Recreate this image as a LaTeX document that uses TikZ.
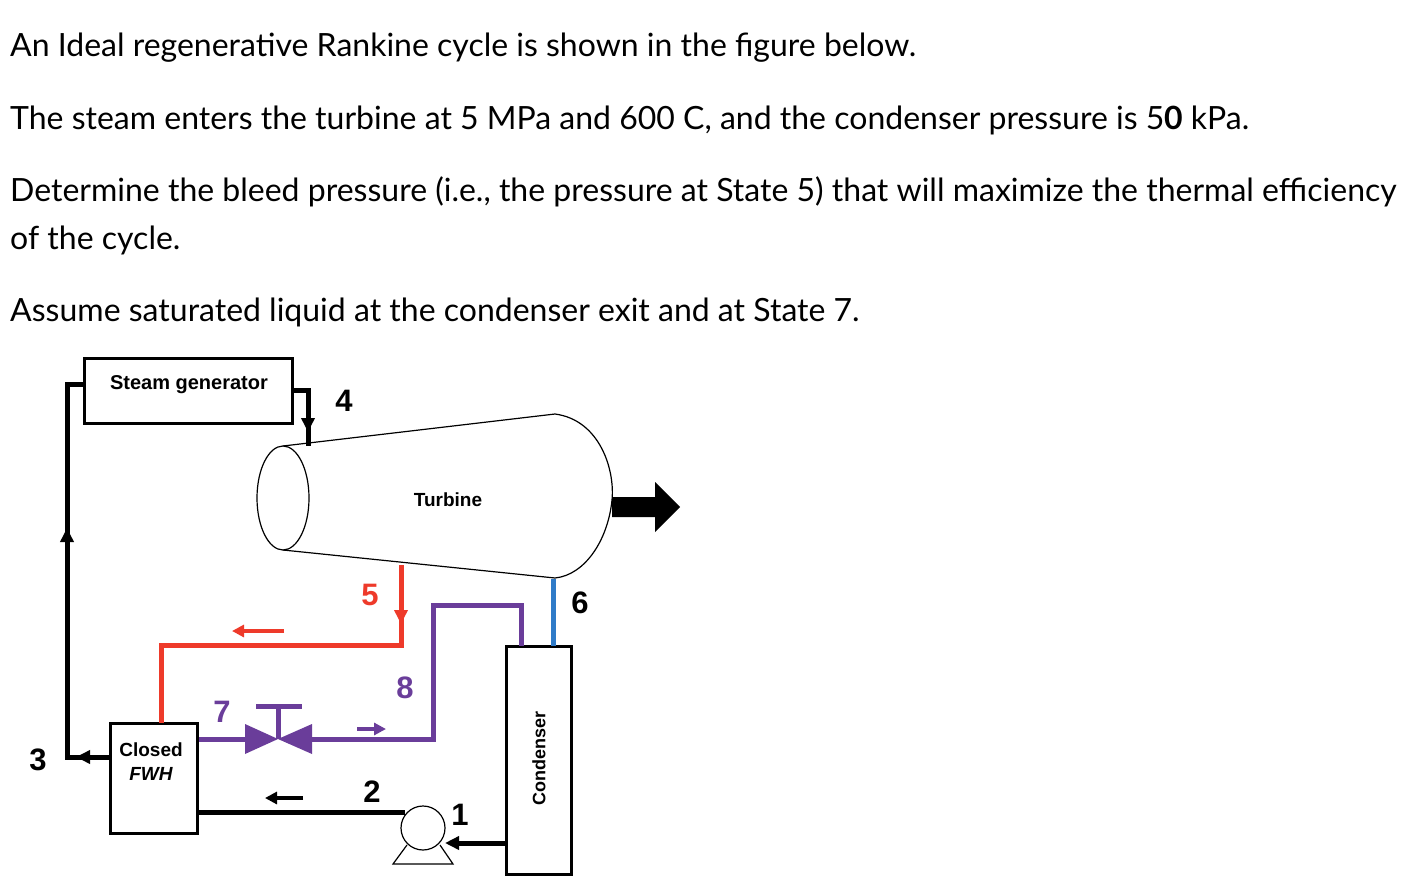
\documentclass[tikz,border=0pt]{standalone}
\usepackage{fontspec}
\setmainfont{Lato}
\newfontfamily\arial{Liberation Sans}
\usetikzlibrary{arrows.meta}
\definecolor{rd}{HTML}{EE3A2A}
\definecolor{pp}{HTML}{6A3D9A}
\definecolor{bl}{HTML}{2F7BC8}
\begin{document}
\begin{tikzpicture}[x=1pt,y=-1pt,
  para/.style={anchor=base west,inner sep=0,font=\fontsize{32}{32}\selectfont},
  lab/.style={font=\arial\bfseries\fontsize{31}{31}\selectfont,inner sep=0},
  box/.style={draw,line width=3pt,inner sep=0},
  pipe/.style={line width=5pt},
  tip/.style={-{Triangle[length=14pt,width=13pt]}},
  stip/.style={-{Triangle[length=12pt,width=12pt]}}]
\useasboundingbox (0,0) rectangle (1412,888);
\node[para] (t1) at (10,57) {An Ideal regenerative Rankine cycle is shown in the figure below.};
\node[para] (t2) at (10,129) {The steam enters the turbine at 5 MPa and 600 C, and the condenser pressure is 5{\bfseries 0} kPa.};
\node[para] (t3) at (10,201) {Determine the bleed pressure (i.e., the pressure at State 5) that will maximize the thermal efficiency};
\node[para] (t4) at (10,249) {of the cycle.};
\node[para] (t5) at (10,321) {Assume saturated liquid at the condenser exit and at State 7.};
% boxes
\node[box,minimum width=208pt,minimum height=65pt] (sg) at (188,390.5) {};
\node[font=\arial\bfseries\fontsize{20}{20}\selectfont] (sgt) at (189,385) {Steam generator};
\node[box,minimum width=87pt,minimum height=110pt] (fwh) at (153.5,778) {};
\node[font=\arial\bfseries\fontsize{19}{24}\selectfont,align=center] (fwht) at (151,762) {Closed\\\itshape FWH};
\node[box,minimum width=65pt,minimum height=228pt] (cond) at (538.5,760) {};
\node[font=\arial\bfseries\fontsize{18}{18}\selectfont,rotate=90] (condt) at (539,758) {Condenser};
% turbine
\draw[line width=1.2pt,fill=white] (283,446) -- (555,414) .. controls (600,420) and (615,470) .. (612,500) .. controls (608,540) and (585,575) .. (555,578) -- (283,550);
\draw[line width=1.2pt,fill=white] (283,498) ellipse (26 and 52);
\node[font=\arial\bfseries\fontsize{19}{19}\selectfont] (tt) at (448,500) {Turbine};
\coordinate (tin) at (308,446);
\coordinate (t5) at (401,565);
\coordinate (t6) at (553,579);
\fill (612,497) -- (655,497) -- (655,482) -- (680,507) -- (655,532) -- (655,517) -- (612,517) -- cycle;
% steam gen to turbine
\draw[pipe] (sg.east|-0,390) -| (tin);
\draw[pipe,tip] (308,400) -- (308,432);
% 3 line
\draw[pipe] (fwh.west|-0,757) -| (67,384) -- (sg.west|-0,384);
\draw[pipe,tip] (67,560) -- (67,528);
\draw[pipe,tip] (108,757) -- (76,757);
% red
\draw[rd,pipe] (t5) -- (401,645) -| (161,723);
\draw[rd,pipe,tip] (401,590) -- (401,624);
\draw[rd,line width=3.5pt,stip] (284,631) -- (232,631);
% purple
\draw[pp,pipe] (521,646) -- (521,605) -- (433,605) -- (433,739) -- (312,739);
\draw[pp,pipe] (245,739) -- (fwh.east|-0,739);
\fill[pp] (245,724) -- (278,739) -- (245,754) -- cycle;
\fill[pp] (312,724) -- (278,739) -- (312,754) -- cycle;
\draw[pp,line width=5pt] (278,739) -- (278,706) (256,706) -- (302,706);
\draw[pp,line width=3.5pt,stip] (357,729) -- (386,729);
% blue
\draw[bl,pipe] (t6) -- (553,646);
% bottom line + pump
\draw[pipe] (fwh.east|-0,812) -- (405,812);
\draw[line width=3.5pt,stip] (303,798) -- (265,798);
\draw[line width=1.2pt,fill=white] (407,845) -- (393,864) -- (453,864) -- (440,845);
\node[draw,circle,line width=1.2pt,fill=white,minimum size=44pt,inner sep=0] (pump) at (423,828) {};
\draw[pipe] (cond.west|-0,843) -- (460,843);
\draw[pipe,tip] (470,843) -- (445,843);
% labels
\node[lab] (l4) at (344,401) {4};
\node[lab] (l3) at (38,760) {3};
\node[lab,text=rd] (l5) at (370,595) {5};
\node[lab] (l6) at (580,603) {6};
\node[lab,text=pp] (l8) at (405,688) {8};
\node[lab,text=pp] (l7) at (222,712) {7};
\node[lab] (l2) at (372,792) {2};
\node[lab] (l1) at (460,815) {1};
\end{tikzpicture}
\end{document}
